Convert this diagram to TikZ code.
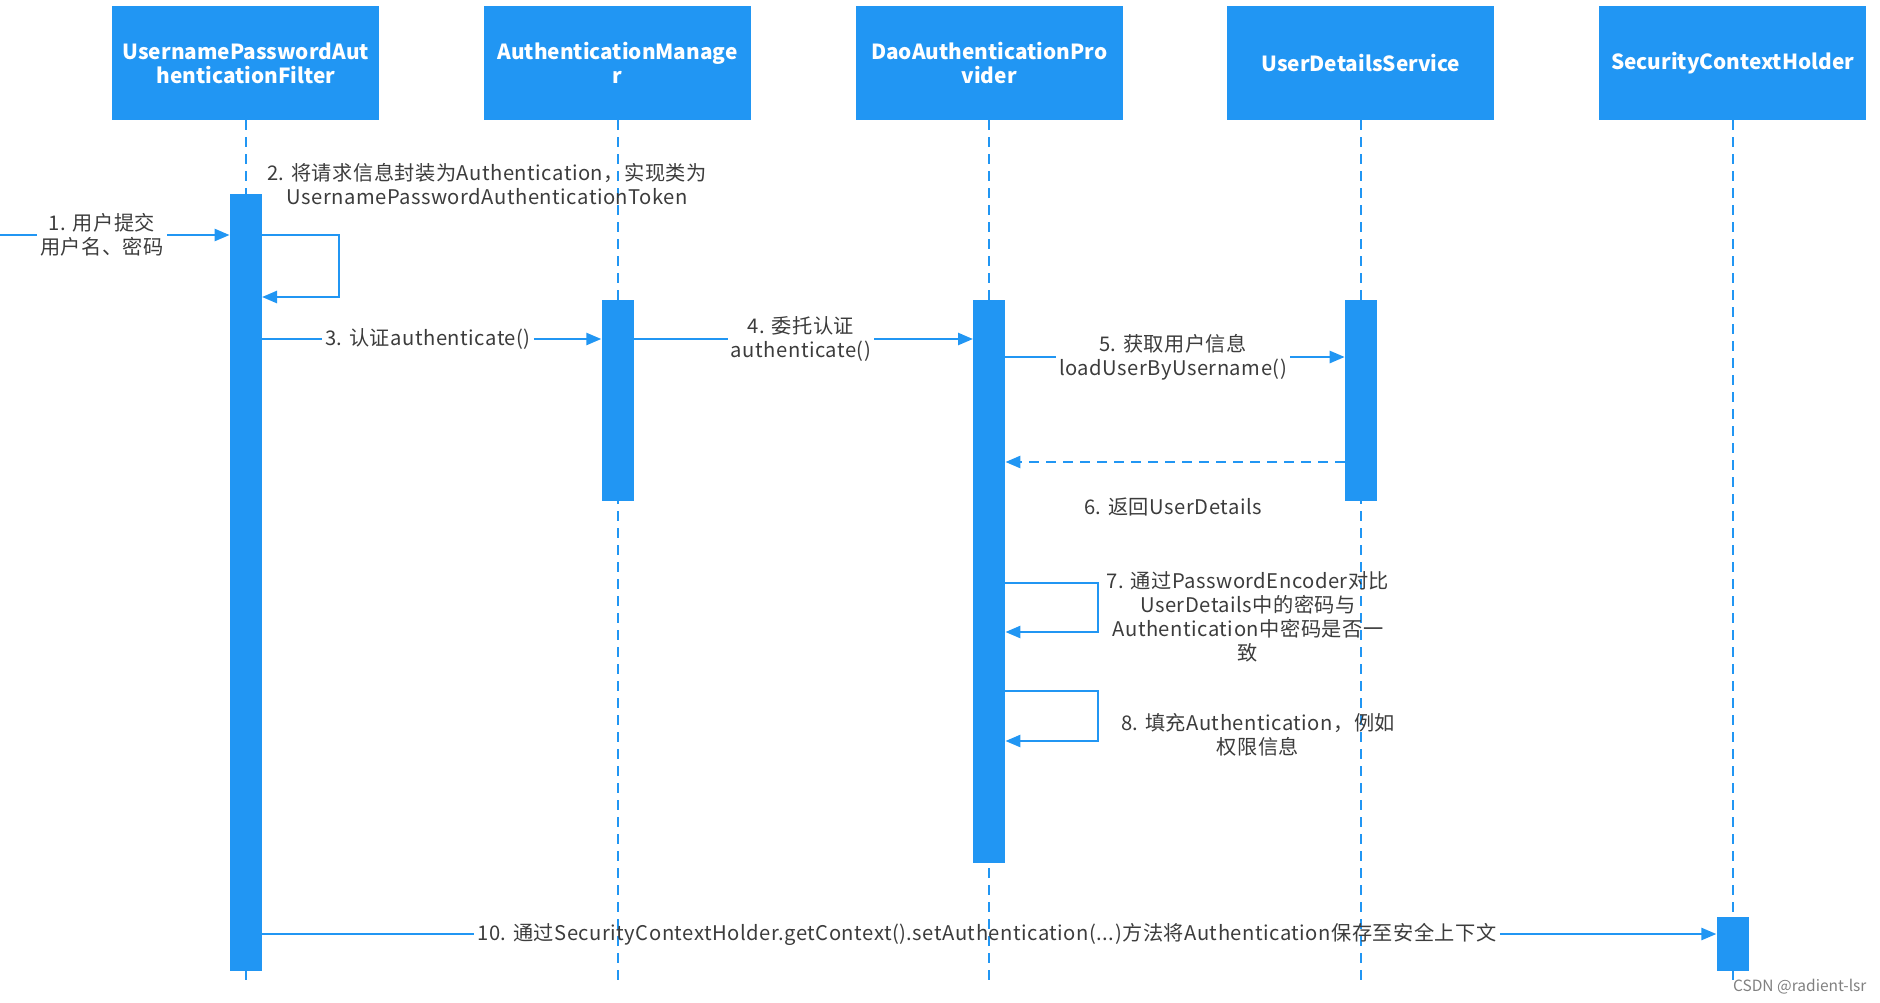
\documentclass[tikz,border=0pt]{standalone}
\usepackage{fontspec}
\setmainfont{Noto Sans CJK SC}
\newfontfamily\lblfont[LetterSpace=2.5]{Noto Sans CJK SC}
\usepackage{tikz}
\usetikzlibrary{arrows.meta}
\definecolor{seqblue}{HTML}{2196F3}
\definecolor{labelgray}{HTML}{3C3C3C}
\tikzset{>={Triangle[length=15pt,width=12pt]}}
\tikzset{
  head/.style={fill=seqblue, text=white, font=\fontsize{20.8}{24}\selectfont\bfseries,
    align=center, minimum width=267pt, minimum height=114pt, inner sep=0pt},
  bar/.style={fill=seqblue, minimum width=32pt, inner sep=0pt, anchor=north},
  life/.style={seqblue, line width=2pt, dash pattern=on 10pt off 7pt},
  msg/.style={seqblue, line width=2.5pt},
  lbl/.style={text=labelgray, font=\lblfont\fontsize{20.2}{24}\selectfont, align=center, inner sep=3pt},
}

\begin{document}
\begin{tikzpicture}[x=1pt, y=-1pt]
  \useasboundingbox (0,0) rectangle (1880,1002);

  % participants
  \node[head] (filter) at (245.8,63) {UsernamePasswordAut\\henticationFilter};
  \node[head] (manager) at (617.5,63) {AuthenticationManage\\r};
  \node[head] (provider) at (989.2,63) {DaoAuthenticationPro\\vider};
  \node[head] (service) at (1360.9,63) {UserDetailsService};
  \node[head] (holder) at (1732.6,63) {SecurityContextHolder};

  \coordinate (bottom) at (0,986);
  \foreach \p in {filter,manager,provider,service,holder}
    \draw[life] (\p.south) -- (\p.south |- bottom);

  % activations
  \node[bar, minimum height=777pt] (fa) at (245.8,194) {};
  \node[bar, minimum height=201pt] (ma) at (617.5,300) {};
  \node[bar, minimum height=563pt] (pa) at (989.2,300) {};
  \node[bar, minimum height=201pt] (sa) at (1360.9,300) {};
  \node[bar, minimum height=54pt] (ha) at (1732.6,917) {};

  % 1
  \coordinate (user) at (0,235);
  \node[lbl] (m1) at (102,235) {1. 用户提交\\用户名、密码};
  \draw[msg] (user) -- (m1.west);
  \draw[msg, ->] (m1.east) -- (fa.west |- m1);

  % 2
  \node[lbl] (m2) at (487,184) {2. 将请求信息封装为Authentication，实现类为\\UsernamePasswordAuthenticationToken};
  \draw[msg, ->] (fa.east |- user) -- (339,235) -- (339,297) -- (fa.east |- 0,297);

  % 3
  \node[lbl] (m3) at (428,339) {3. 认证authenticate()};
  \draw[msg] (fa.east |- m3) -- (m3.west);
  \draw[msg, ->] (m3.east) -- (ma.west |- m3);

  % 4
  \node[lbl] (m4) at (801,339) {4. 委托认证\\authenticate()};
  \draw[msg] (ma.east |- m4) -- (m4.west);
  \draw[msg, ->] (m4.east) -- (pa.west |- m4);

  % 5
  \node[lbl] (m5) at (1173,357) {5. 获取用户信息\\loadUserByUsername()};
  \draw[msg] (pa.east |- m5) -- (m5.west);
  \draw[msg, ->] (m5.east) -- (sa.west |- m5);

  % 6
  \draw[msg, ->, dash pattern=on 10pt off 7pt] (sa.west |- 0,462) -- (pa.east |- 0,462);
  \node[lbl] (m6) at (1173,507) {6. 返回UserDetails};

  % 7
  \draw[msg, ->] (pa.east |- 0,583) -- (1098,583) -- (1098,632) -- (pa.east |- 0,632);
  \node[lbl] (m7) at (1248,617) {7. 通过PasswordEncoder对比\\UserDetails中的密码与\\Authentication中密码是否一\\致};

  % 8
  \draw[msg, ->] (pa.east |- 0,691) -- (1098,691) -- (1098,741) -- (pa.east |- 0,741);
  \node[lbl] (m8) at (1258,735) {8. 填充Authentication，例如\\权限信息};

  % 10
  \node[lbl] (m10) at (987,934) {10. 通过SecurityContextHolder.getContext().setAuthentication(...)方法将Authentication保存至安全上下文};
  \draw[msg] (fa.east |- m10) -- (m10.west);
  \draw[msg, ->] (m10.east) -- (ha.west |- m10);

  \node[font=\fontsize{15.5}{16}\selectfont, text=gray, anchor=east] (mark) at (1870,987) {CSDN @radient-lsr};
\end{tikzpicture}
\end{document}
